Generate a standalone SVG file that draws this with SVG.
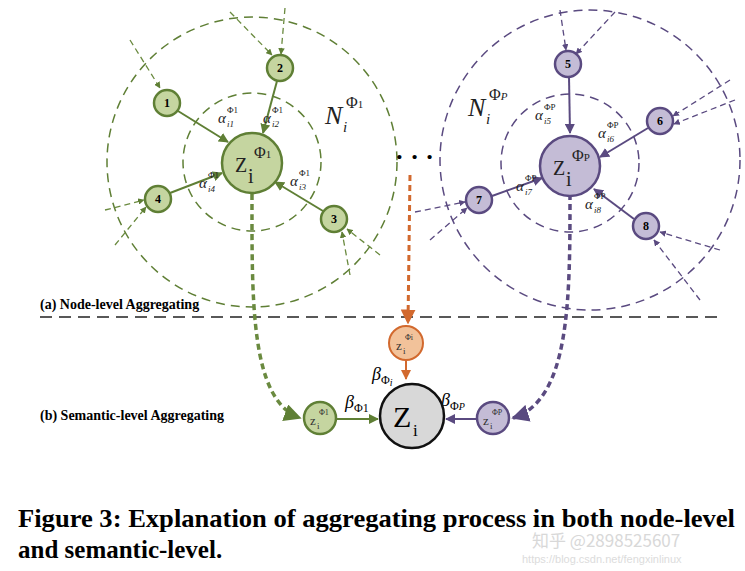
<svg xmlns="http://www.w3.org/2000/svg" width="745" height="571" viewBox="0 0 745 571">
<style>
.g{fill:#c5d5a0;stroke:#5f7f35;stroke-width:2.5}
.p{fill:#c4bcd6;stroke:#5a4a80;stroke-width:2.5}
.gd{fill:none;stroke:#5f7f35;stroke-width:1.5;stroke-dasharray:9 6}
.pd{fill:none;stroke:#5a4a80;stroke-width:1.5;stroke-dasharray:9 6}
.ga{stroke:#5f7f35;stroke-width:2;marker-end:url(#mg)}
.pa{stroke:#5a4a80;stroke-width:2;marker-end:url(#mp)}
.gdl{stroke:#6a8a3f;stroke-width:1.3;stroke-dasharray:6 4;marker-end:url(#mg)}
.pdl{stroke:#5a4a80;stroke-width:1.3;stroke-dasharray:6 4;marker-end:url(#mp)}
.n{font-family:"Liberation Serif",serif;font-weight:bold;font-size:12px;text-anchor:middle}
.a{font-family:"Liberation Serif",serif;font-style:italic;font-size:15px;fill:#222}
.sm{font-family:"Liberation Serif",serif;font-size:9px;fill:#222}
.si{font-family:"Liberation Serif",serif;font-style:italic;font-size:9px;fill:#222}
.z{font-family:"Liberation Serif",serif;font-size:20px;fill:#222}
.b{font-family:"Liberation Serif",serif;font-weight:bold;font-size:14px}
.c{font-family:"Liberation Serif",serif;font-weight:bold;font-size:25px}
</style>
<defs>
<marker id="mg" viewBox="0 0 10 10" refX="9" refY="5" markerWidth="5" markerHeight="5" orient="auto"><path d="M0,0L10,5L0,10z" fill="#5f7f35"/></marker>
<marker id="mp" viewBox="0 0 10 10" refX="9" refY="5" markerWidth="5" markerHeight="5" orient="auto"><path d="M0,0L10,5L0,10z" fill="#5a4a80"/></marker>
<marker id="mo" viewBox="0 0 10 10" refX="9" refY="5" markerWidth="5" markerHeight="5" orient="auto"><path d="M0,0L10,5L0,10z" fill="#d2692e"/></marker>
</defs>
<rect width="745" height="571" fill="#fff"/>
<g id="rings">
<circle class="gd" cx="252" cy="162" r="145"/>
<circle class="gd" cx="252" cy="162" r="69"/>
<circle class="pd" cx="590" cy="160" r="150"/>
<circle class="pd" cx="570" cy="163" r="69"/>
<line x1="40" y1="317" x2="720" y2="317" stroke="#222" stroke-width="1.5" stroke-dasharray="12 7"/>
</g>
<g id="connectors">
<line class="gdl" x1="130" y1="40" x2="160" y2="88"/>
<line class="gdl" x1="230" y1="12" x2="272" y2="55"/>
<line class="gdl" x1="285" y1="8" x2="281" y2="54"/>
<line class="gdl" x1="105" y1="210" x2="144" y2="200"/>
<line class="gdl" x1="115" y1="245" x2="146" y2="207"/>
<line class="gdl" x1="350" y1="275" x2="342" y2="232"/>
<line class="gdl" x1="380" y1="255" x2="347" y2="229"/>
<line class="pdl" x1="560" y1="10" x2="566" y2="50"/>
<line class="pdl" x1="615" y1="12" x2="576" y2="54"/>
<line class="pdl" x1="730" y1="80" x2="673" y2="116"/>
<line class="pdl" x1="735" y1="100" x2="674" y2="124"/>
<line class="pdl" x1="415" y1="212" x2="465" y2="202"/>
<line class="pdl" x1="430" y1="240" x2="467" y2="208"/>
<line class="pdl" x1="700" y1="300" x2="654" y2="240"/>
<line class="pdl" x1="720" y1="250" x2="660" y2="232"/>
<line class="ga" x1="178" y1="111" x2="228" y2="142"/>
<line class="ga" x1="277" y1="81" x2="263" y2="133"/>
<line class="ga" x1="323" y1="211" x2="275" y2="182"/>
<line class="ga" x1="170" y1="193" x2="222" y2="173"/>
<line class="pa" x1="569" y1="77" x2="570" y2="133"/>
<line class="pa" x1="648" y1="128" x2="600" y2="157"/>
<line class="pa" x1="492" y1="196" x2="542" y2="178"/>
<line class="pa" x1="634" y1="219" x2="594" y2="189"/>
<path d="M252,194 C252,300 250,400 300,418" fill="none" stroke="#6a8a3f" stroke-width="3.5" stroke-dasharray="6 4" marker-end="url(#mg)"/>
<path d="M570,194 C570,300 570,400 513,418" fill="none" stroke="#5a4a80" stroke-width="3.5" stroke-dasharray="6 4" marker-end="url(#mp)"/>
<line x1="410" y1="175" x2="408" y2="323" stroke="#d2692e" stroke-width="3" stroke-dasharray="6 4" marker-end="url(#mo)"/>
<line x1="406" y1="361" x2="406" y2="379" stroke="#d2692e" stroke-width="2" marker-end="url(#mo)"/>
<line class="ga" x1="337" y1="419" x2="378" y2="419"/>
<line class="pa" x1="477" y1="419" x2="446" y2="419"/>
</g>
<g id="node-1"><circle class="g" cx="167" cy="103" r="13"/><text class="n" x="167" y="107">1</text></g>
<g id="node-2"><circle class="g" cx="280" cy="68" r="13"/><text class="n" x="280" y="72">2</text></g>
<g id="node-3"><circle class="g" cx="334" cy="219" r="13"/><text class="n" x="334" y="223">3</text></g>
<g id="node-4"><circle class="g" cx="158" cy="199" r="13"/><text class="n" x="158" y="203">4</text></g>
<g id="node-z1"><circle class="g" cx="252" cy="163" r="30"/><text class="z" x="235" y="172">Z</text><text class="z" x="248" y="183" font-size="16">i</text><text x="254" y="158" font-family="Liberation Serif,serif" font-size="16" fill="#222">Φ<tspan font-size="11">1</tspan></text></g>
<g id="node-5"><circle class="p" cx="568" cy="64" r="13"/><text class="n" x="568" y="68">5</text></g>
<g id="node-6"><circle class="p" cx="660" cy="121" r="13"/><text class="n" x="660" y="125">6</text></g>
<g id="node-7"><circle class="p" cx="479" cy="200" r="13"/><text class="n" x="479" y="204">7</text></g>
<g id="node-8"><circle class="p" cx="646" cy="226" r="13"/><text class="n" x="646" y="230">8</text></g>
<g id="node-zp"><circle class="p" cx="570" cy="166" r="30"/><text class="z" x="553" y="175">Z</text><text class="z" x="566" y="186" font-size="16">i</text><text x="572" y="161" font-family="Liberation Serif,serif" font-size="16" fill="#222">Φ<tspan font-size="11">P</tspan></text></g>
<g id="labels">
<text class="a" x="218" y="123">α</text><text class="sm" x="227" y="113">Φ1</text><text class="si" x="227" y="127">i1</text>
<text class="a" x="263" y="123">α</text><text class="sm" x="272" y="113">Φ1</text><text class="si" x="272" y="127">i2</text>
<text class="a" x="290" y="186">α</text><text class="sm" x="299" y="176">Φ1</text><text class="si" x="299" y="190">i3</text>
<text class="a" x="199" y="188">α</text><text class="sm" x="208" y="178">Φ1</text><text class="si" x="208" y="192">i4</text>
<text class="a" x="535" y="120">α</text><text class="sm" x="544" y="110">ΦP</text><text class="si" x="544" y="124">i5</text>
<text class="a" x="598" y="138">α</text><text class="sm" x="607" y="128">ΦP</text><text class="si" x="607" y="142">i6</text>
<text class="a" x="516" y="191">α</text><text class="sm" x="525" y="181">ΦP</text><text class="si" x="525" y="195">i7</text>
<text class="a" x="585" y="209">α</text><text class="sm" x="594" y="199">ΦP</text><text class="si" x="594" y="213">i8</text>
<text x="325" y="124" font-family="Liberation Serif,serif" font-style="italic" font-size="26" fill="#222">N</text><text x="343" y="132" font-family="Liberation Serif,serif" font-style="italic" font-size="15" fill="#222">i</text><text x="346" y="108" font-family="Liberation Serif,serif" font-size="16" fill="#222">Φ<tspan font-size="11">1</tspan></text>
<text x="468" y="116" font-family="Liberation Serif,serif" font-style="italic" font-size="26" fill="#222">N</text><text x="486" y="124" font-family="Liberation Serif,serif" font-style="italic" font-size="15" fill="#222">i</text><text x="489" y="100" font-family="Liberation Serif,serif" font-size="16" fill="#222">Φ<tspan font-size="11" font-style="italic">P</tspan></text>
<text x="395" y="165" font-family="Liberation Serif,serif" font-size="26" font-weight="bold">· · ·</text>
<text class="b" x="40" y="309">(a) Node-level Aggregating</text>
<text class="b" x="40" y="420">(b) Semantic-level Aggregating</text>
<text x="372" y="380" font-family="Liberation Serif,serif" font-style="italic" font-size="18">β<tspan font-size="12" font-style="normal" dy="4">Φ</tspan><tspan font-size="10" dy="2">i</tspan></text>
<text x="345" y="408" font-family="Liberation Serif,serif" font-style="italic" font-size="18">β<tspan font-size="12" font-style="normal" dy="4">Φ1</tspan></text>
<text x="441" y="406" font-family="Liberation Serif,serif" font-style="italic" font-size="18">β<tspan font-size="12" font-style="normal" dy="4">Φ</tspan><tspan font-size="10">P</tspan></text>
</g>
<g id="node-zo"><circle cx="406" cy="343" r="17" fill="#f2c29a" stroke="#d2692e" stroke-width="2"/><text x="396" y="350" font-family="Liberation Serif,serif" font-size="13" fill="#333">z</text><text x="403" y="354" font-family="Liberation Serif,serif" font-size="9" fill="#333">i</text><text x="405" y="340" font-family="Liberation Serif,serif" font-size="8" fill="#333">Φi</text></g>
<g id="node-zg"><circle class="g" cx="320" cy="418" r="16" stroke-width="2"/><text x="310" y="425" font-family="Liberation Serif,serif" font-size="13" fill="#333">z</text><text x="317" y="429" font-family="Liberation Serif,serif" font-size="9" fill="#333">i</text><text x="319" y="415" font-family="Liberation Serif,serif" font-size="8" fill="#333">Φ1</text></g>
<g id="node-zpp"><circle class="p" cx="493" cy="418" r="16" stroke-width="2"/><text x="483" y="425" font-family="Liberation Serif,serif" font-size="13" fill="#333">z</text><text x="490" y="429" font-family="Liberation Serif,serif" font-size="9" fill="#333">i</text><text x="492" y="415" font-family="Liberation Serif,serif" font-size="8" fill="#333">ΦP</text></g>
<g id="node-Z"><circle cx="412" cy="416" r="32" fill="#d8d8d8" stroke="#111" stroke-width="2.5"/><text x="393" y="427" font-family="Liberation Serif,serif" font-size="30">Z</text><text x="413" y="436" font-family="Liberation Serif,serif" font-size="17">i</text></g>
<text class="c" x="18" y="527" textLength="717" lengthAdjust="spacingAndGlyphs">Figure 3: Explanation of aggregating process in both node-level</text>
<text class="c" x="18" y="558">and semantic-level.</text>
<text x="532" y="547" font-family="Noto Sans CJK SC,sans-serif" font-size="17" fill="#cfcfcf" opacity="0.8">知乎 @2898525607</text>
<text x="522" y="563" font-family="Liberation Sans,sans-serif" font-size="11" fill="#dcdcdc">https://blog.csdn.net/fengxinlinux</text>
</svg>
